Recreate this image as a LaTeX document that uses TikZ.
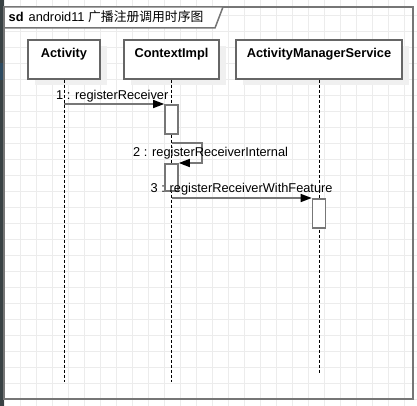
\documentclass[tikz,border=0pt]{standalone}
\usepackage{fontspec}
\setmainfont{Liberation Sans}
\newfontfamily\cjk{Noto Sans CJK SC}
\usetikzlibrary{arrows.meta,shadows}
\definecolor{gridc}{HTML}{ECECEC}
\definecolor{framec}{HTML}{767676}
\definecolor{boxc}{HTML}{666666}
\definecolor{linec}{HTML}{777777}
\definecolor{shadc}{HTML}{F0F0F0}
\definecolor{stripc}{HTML}{394244}
\definecolor{stripb}{HTML}{2C4A60}
\tikzset{
  gridline/.style={draw=gridc, line width=1pt},
  framestyle/.style={draw=framec, line width=2pt},
  tabstyle/.style={draw=framec, line width=1.5pt, fill=white},
  lbox/.style={rectangle, draw=boxc, line width=1.6pt, fill=white, inner sep=0pt,
    text height=17.5pt, text depth=21.5pt, minimum height=39pt, anchor=north,
    font=\fontsize{12.8}{15}\selectfont\bfseries,
    drop shadow={shadow xshift=6.5pt, shadow yshift=-6pt, fill=shadc, opacity=1}},
  life/.style={draw=black, line width=1pt, dash pattern=on 3pt off 2pt},
  actbox/.style={rectangle, draw=linec, line width=1.6pt, fill=white, inner sep=0pt,
    minimum width=13pt, anchor=north},
  msg/.style={draw=linec, line width=1.5pt, -{Triangle[length=11pt,width=8pt,color=black]}},
  msglabel/.style={anchor=base west, inner sep=0pt, font=\fontsize{12.8}{15}\selectfont}
}
\begin{document}
\begin{tikzpicture}[x=1pt,y=-1pt]
\useasboundingbox (0,0) rectangle (417,406);
\fill[white] (0,0) rectangle (417,406);
% grid
\foreach \k in {0,...,25} \draw[gridline] (4.7+16*\k,0) -- (4.7+16*\k,406);
\foreach \k in {0,...,24} \draw[gridline] (0,15.7+16*\k) -- (417,15.7+16*\k);
% left strip
\fill[stripc] (0,0) rectangle (3.5,406);
\fill[stripb] (0,63) rectangle (3.5,80);
% frame
\draw[framestyle] (4,7) rectangle (413,399);
\draw[tabstyle] (4,7) -- (223,7) -- (215,28) -- (4,28) -- cycle;
\node[msglabel] (title) at (8.5,21.7) {\textbf{sd}\hspace{5pt}android11 {\cjk 广播注册调用时序图}};
% lifeline heads
\node[lbox, minimum width=72pt] (act) at (64,39) {Activity};
\node[lbox, minimum width=95pt] (ctx) at (171.5,39) {ContextImpl};
\node[lbox, minimum width=166pt] (ams) at (319,39) {ActivityManagerService};
% lifelines
\coordinate (actEnd) at (64,382);
\coordinate (ctxEnd) at (171.5,382);
\coordinate (amsEnd) at (319,374);
\draw[life] (act.south) -- (actEnd);
\draw[life] (ctx.south) -- (ctxEnd);
\draw[life] (ams.south) -- (amsEnd);
% activations
\node[actbox, minimum height=29pt] (a1) at (171.5,104) {};
\node[actbox, minimum height=27pt] (a2) at (171.5,163) {};
\node[actbox, minimum height=29pt] (a3) at (319,198) {};
% messages
\draw[msg] (act.south |- a1.north) -- (a1.north west);
\coordinate (s2) at (171.5,143);
\draw[msg] (s2) -- ++(30.5,0) |- (a2.north east);
\draw[msg] (ctx.south |- a3.north) -- (a3.north west);
% labels
\node[msglabel] (l1) at (56,99.5) {1 : registerReceiver};
\node[msglabel] (l2) at (133,157) {2 : registerReceiverInternal};
\node[msglabel] (l3) at (150.5,192.7) {3 : registerReceiverWithFeature};
\end{tikzpicture}
\end{document}
